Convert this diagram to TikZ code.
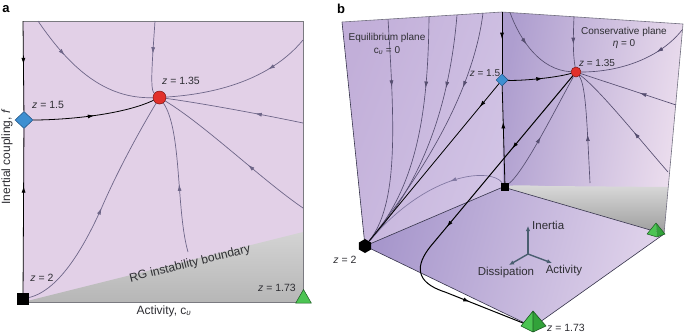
\documentclass[tikz,border=0pt]{standalone}
\usepackage{fontspec}
\setmainfont{Liberation Sans}
\usetikzlibrary{arrows.meta,decorations.markings,shapes.geometric}
\definecolor{afill}{HTML}{E2D0E7}
\definecolor{flowa}{HTML}{6E6688}
\definecolor{flowb}{HTML}{564E70}
\definecolor{flowc}{HTML}{7F76A0}
\definecolor{frame}{HTML}{7A7A80}
\definecolor{grayL}{HTML}{E4E4E4}
\definecolor{grayD}{HTML}{8C8C8C}
\definecolor{wallLa}{HTML}{C2AFD9}
\definecolor{wallLb}{HTML}{D2C4E5}
\definecolor{wallRa}{HTML}{AE9ECF}
\definecolor{wallRb}{HTML}{EEE0EF}
\definecolor{floorA}{HTML}{A797CC}
\definecolor{floorB}{HTML}{E0D3EB}
\definecolor{ptred}{HTML}{E2302B}
\definecolor{ptredd}{HTML}{7A1512}
\definecolor{ptblue}{HTML}{3E8FD1}
\definecolor{ptblued}{HTML}{1D4F80}
\definecolor{grA}{HTML}{4CC453}
\definecolor{grB}{HTML}{32A23A}
\definecolor{grD}{HTML}{1C5A22}
\definecolor{txt}{HTML}{2E2E33}
\definecolor{triadc}{HTML}{4A5E70}
\definecolor{edgec}{HTML}{35334A}
\tikzset{
  farr/.style={postaction={decorate,decoration={markings,mark=at position #1 with {\arrow{Latex[length=6.5pt,width=4pt]}}}}},
  flowline/.style={draw=flowa, line width=0.7pt},
  flowlineb/.style={draw=flowb, line width=0.65pt},
  blkline/.style={draw=black, line width=0.8pt},
  redpt/.style={circle, fill=ptred, draw=ptredd, line width=0.5pt, inner sep=0pt, minimum size=13pt},
  bluedia/.style={diamond, fill=ptblue, draw=ptblued, line width=0.5pt, inner sep=0pt, minimum width=18pt, minimum height=17pt},
  blksq/.style={rectangle, fill=black, inner sep=0pt, minimum size=12pt},
  hexblk/.style={regular polygon, regular polygon sides=6, shape border rotate=30, fill=black, inner sep=0pt, minimum size=14pt},
  greentri/.style={regular polygon, regular polygon sides=3, fill=grA, draw=grD, line width=0.5pt, inner sep=0pt, minimum size=18pt},
  lbl/.style={font=\fontsize{10.5}{12}\selectfont, text=txt, inner sep=0pt},
  lblbig/.style={font=\fontsize{12}{14}\selectfont, text=txt, inner sep=0pt},
  lblsm/.style={font=\fontsize{10}{12}\selectfont, text=txt, inner sep=0pt, align=center},
  panel/.style={font=\fontsize{13}{14}\selectfont\bfseries, text=black, inner sep=0pt},
  edge/.style={draw=edgec, line width=0.6pt, line join=round},
  triad/.style={draw=triadc, line width=1.4pt, -{Latex[length=5pt,width=4.5pt]}},
}
\begin{document}
\begin{tikzpicture}[x=1pt,y=-1pt]
\useasboundingbox (0,0) rectangle (685,333);
\fill[white] (0,0) rectangle (685,333);

% ================= panel a =================
\coordinate (aTL) at (23,21);
\coordinate (aTR) at (303,21);
\coordinate (aBR) at (303,302);
\coordinate (aBL) at (23,302);
\coordinate (aRB) at (303,232);
\fill[afill] (aTL) rectangle (aBR);
\begin{scope}
  \clip (aBL) -- (aRB) -- (aBR) -- cycle;
  \shade[top color=grayL, bottom color=grayD, rotate around={14:(23,302)}] (10,268) rectangle (340,404);
\end{scope}
\draw[frame, line width=0.8pt] (aTL) -- (aTR) -- (aBR) -- (aBL);

\node[redpt] (r1) at (159.5,97.5) {};
\node[bluedia] (d1) at (24,120) {};
\node[blksq] (s1) at (23,299) {};
\node[greentri] (t1) at (303.5,298.5) {};

\coordinate (fa1) at (38,21);
\coordinate (fa2) at (155,21);
\coordinate (fa3) at (303,40);
\coordinate (fa4) at (303,123);
\coordinate (fa5) at (303,208);
\coordinate (fa6) at (188,252);
\coordinate (fa7) at (102,207);

\draw[flowline, farr=0.3] (fa1) .. controls (70,68) and (105,99) .. (r1);
\draw[flowline, farr=0.45] (fa2) .. controls (152,65) and (150,90) .. (r1);
\draw[flowline, farr=0.3] (fa3) .. controls (270,80) and (215,94) .. (r1);
\draw[flowline, farr=0.35] (fa4) .. controls (260,114) and (200,103) .. (r1);
\draw[flowline, farr=0.4] (fa5) .. controls (262,180) and (205,125) .. (r1);
\draw[flowline, farr=0.45] (fa6) .. controls (176,210) and (182,130) .. (r1);
\draw[flowline, farr=0.5] (s1) .. controls (60,290) and (85,245) .. (fa7) .. controls (118,170) and (140,130) .. (r1);

\draw[blkline, farr=0.48] (aTL) -- (d1);
\draw[blkline, farr=0.65] (s1) -- (d1);
\draw[blkline, farr=0.5] (d1) .. controls (60,120) and (120,116) .. (r1);

\node[lbl] (la1) at (181,81) {\textit{z} = 1.35};
\node[lbl] (la2) at (48,105) {\textit{z} = 1.5};
\node[lbl] (la3) at (42,278) {\textit{z} = 2};
\node[lbl] (la4) at (277,288) {\textit{z} = 1.73};
\node[lblbig, rotate=14] (la5) at (190,264) {RG instability boundary};
\node[lblbig] (la6) at (164,311) {Activity, c\textsubscript{\textit{υ}}};
\node[lblbig, rotate=90] (la7) at (7,157) {Inertial coupling, \textit{f}};
\node[panel] (pa) at (6,9) {a};

% ================= panel b =================
\coordinate (TL) at (342,22);
\coordinate (TC) at (502,12);
\coordinate (TR) at (683,24);
\coordinate (BCc) at (503,187);
\coordinate (BL) at (365,246);
\coordinate (BR) at (664,234);
\coordinate (FF) at (533,327);

\shade[left color=wallLa, right color=wallLb, shading angle=70] (TL) -- (TC) -- (BCc) -- (BL) -- cycle;
\shade[left color=wallRa, right color=wallRb, shading angle=80] (TC) -- (TR) -- (BR) -- (BCc) -- cycle;
\begin{scope}
  \clip (BCc) .. controls (508,185) and (520,185) .. (545,186) -- (668,187) -- (BR) -- cycle;
  \shade[top color=grayL!40!white, bottom color=grayD!90!black] (495,163) rectangle (675,258);
\end{scope}
\shade[left color=floorA, right color=floorB, shading angle=75] (BCc) -- (BR) -- (FF) -- (BL) -- cycle;
\draw[edge] (TL) -- (BL) -- (BCc) -- (BR) -- (FF) -- (BL);
\draw[edge, draw=edgec!70] (TL) -- (TC) -- (TR) -- (BR);

\node[redpt, minimum size=10pt] (r2) at (576,72) {};
\node[bluedia, minimum width=12pt, minimum height=12pt] (d2) at (502,80) {};
\node[hexblk] (h2) at (365,246) {};
\node[blksq, minimum size=8pt] (s2) at (505,187) {};

\coordinate (lb1) at (388,19);
\coordinate (lb2) at (429,17);
\coordinate (lb3) at (457,15);
\coordinate (lb4) at (483,13);
\draw[flowlineb, farr=0.3] (lb1) .. controls (395,130) and (398,205) .. (h2);
\draw[flowlineb, farr=0.3] (lb2) .. controls (428,110) and (418,185) .. (h2);
\draw[flowlineb, farr=0.3] (lb3) .. controls (450,100) and (425,180) .. (h2);
\draw[flowlineb, farr=0.3] (lb4) .. controls (474,85) and (430,165) .. (h2);
\draw[draw=flowc, line width=0.65pt, farr=0.35] (s2) .. controls (492,168) and (430,170) .. (h2);

\coordinate (rb1) at (510,12.5);
\coordinate (rb2) at (574,16.5);
\coordinate (rb3) at (682,30);
\coordinate (rb4) at (676,105);
\coordinate (rb5) at (668,172);
\coordinate (rb6) at (590,183);
\draw[flowlineb, farr=0.4] (rb1) .. controls (520,40) and (540,70) .. (r2);
\draw[flowlineb, farr=0.55] (rb2) .. controls (573,40) and (573,55) .. (r2);
\draw[flowlineb, farr=0.3] (rb3) .. controls (660,58) and (620,72) .. (r2);
\draw[flowlineb, farr=0.38] (rb4) .. controls (640,93) and (600,80) .. (r2);
\draw[flowlineb, farr=0.4] (rb5) .. controls (640,140) and (600,90) .. (r2);
\draw[flowlineb, farr=0.45] (rb6) .. controls (587,125) and (586,85) .. (r2);
\draw[flowlineb, farr=0.45] (s2) .. controls (525,170) and (555,110) .. (r2);

\coordinate (mb1) at (430,247);
\coordinate (mb2) at (445,292);
\draw[blkline, farr=0.15] (d2) -- (h2);
\draw[blkline, farr=0.44] (TC) -- (d2);
\draw[blkline, farr=0.63] (s2) -- (d2);
\draw[blkline, farr=0.55] (d2) .. controls (520,81) and (555,78) .. (r2);
\draw[blkline, line width=1pt, farr=0.25, farr=0.52, farr=0.82] (r2) -- (mb1) .. controls (416,265) and (414,282) .. (mb2) -- (FF);

% pyramids
\coordinate (t2) at (533,320);
\coordinate (t3) at (656,230);
\begin{scope}[shift={(t2)}]
  \fill[grA] (0,-9) -- (-12,6) -- (0,12) -- cycle;
  \fill[grB] (0,-9) -- (0,12) -- (13,6) -- cycle;
  \draw[grD, line width=0.6pt, line join=round] (0,-9) -- (-12,6) -- (0,12) -- (13,6) -- cycle (0,-9) -- (0,12);
\end{scope}
\begin{scope}[shift={(t3)}]
  \fill[grA] (0,-7) -- (-9,4) -- (1,7) -- cycle;
  \fill[grB] (0,-7) -- (1,7) -- (9,4) -- cycle;
  \draw[grD, line width=0.5pt, line join=round] (0,-7) -- (-9,4) -- (1,7) -- (9,4) -- cycle;
\end{scope}

% triad
\coordinate (tc) at (528,254);
\coordinate (ti) at (528,226);
\coordinate (td) at (509,265);
\coordinate (tac) at (552,263);
\draw[triad] (tc) -- (ti);
\draw[triad] (tc) -- (td);
\draw[triad] (tc) -- (tac);
\node[lblbig, font=\fontsize{11.5}{13}\selectfont, anchor=west] (lbi) at (532,225) {Inertia};
\node[lblbig, font=\fontsize{11.5}{13}\selectfont] (lbd) at (506,273) {Dissipation};
\node[lblbig, font=\fontsize{11.5}{13}\selectfont] (lba) at (564,271) {Activity};

\node[lbl] (lb173) at (566,328) {\textit{z} = 1.73};
\node[lbl] (lb2z) at (345,260) {\textit{z} = 2};
\node[lbl, font=\fontsize{10}{12}\selectfont] (lb15) at (485,73) {\textit{z} = 1.5};
\node[lbl, font=\fontsize{10}{12}\selectfont] (lb135) at (597,63) {\textit{z} = 1.35};
\node[lblsm] (leq) at (387,44) {Equilibrium plane\\[1pt]c\textsubscript{\textit{υ}} = 0};
\node[lblsm] (lcons) at (624,38) {Conservative plane\\[0pt]\textit{η} = 0};
\node[panel] (pb) at (341,9) {b};
\end{tikzpicture}
\end{document}
